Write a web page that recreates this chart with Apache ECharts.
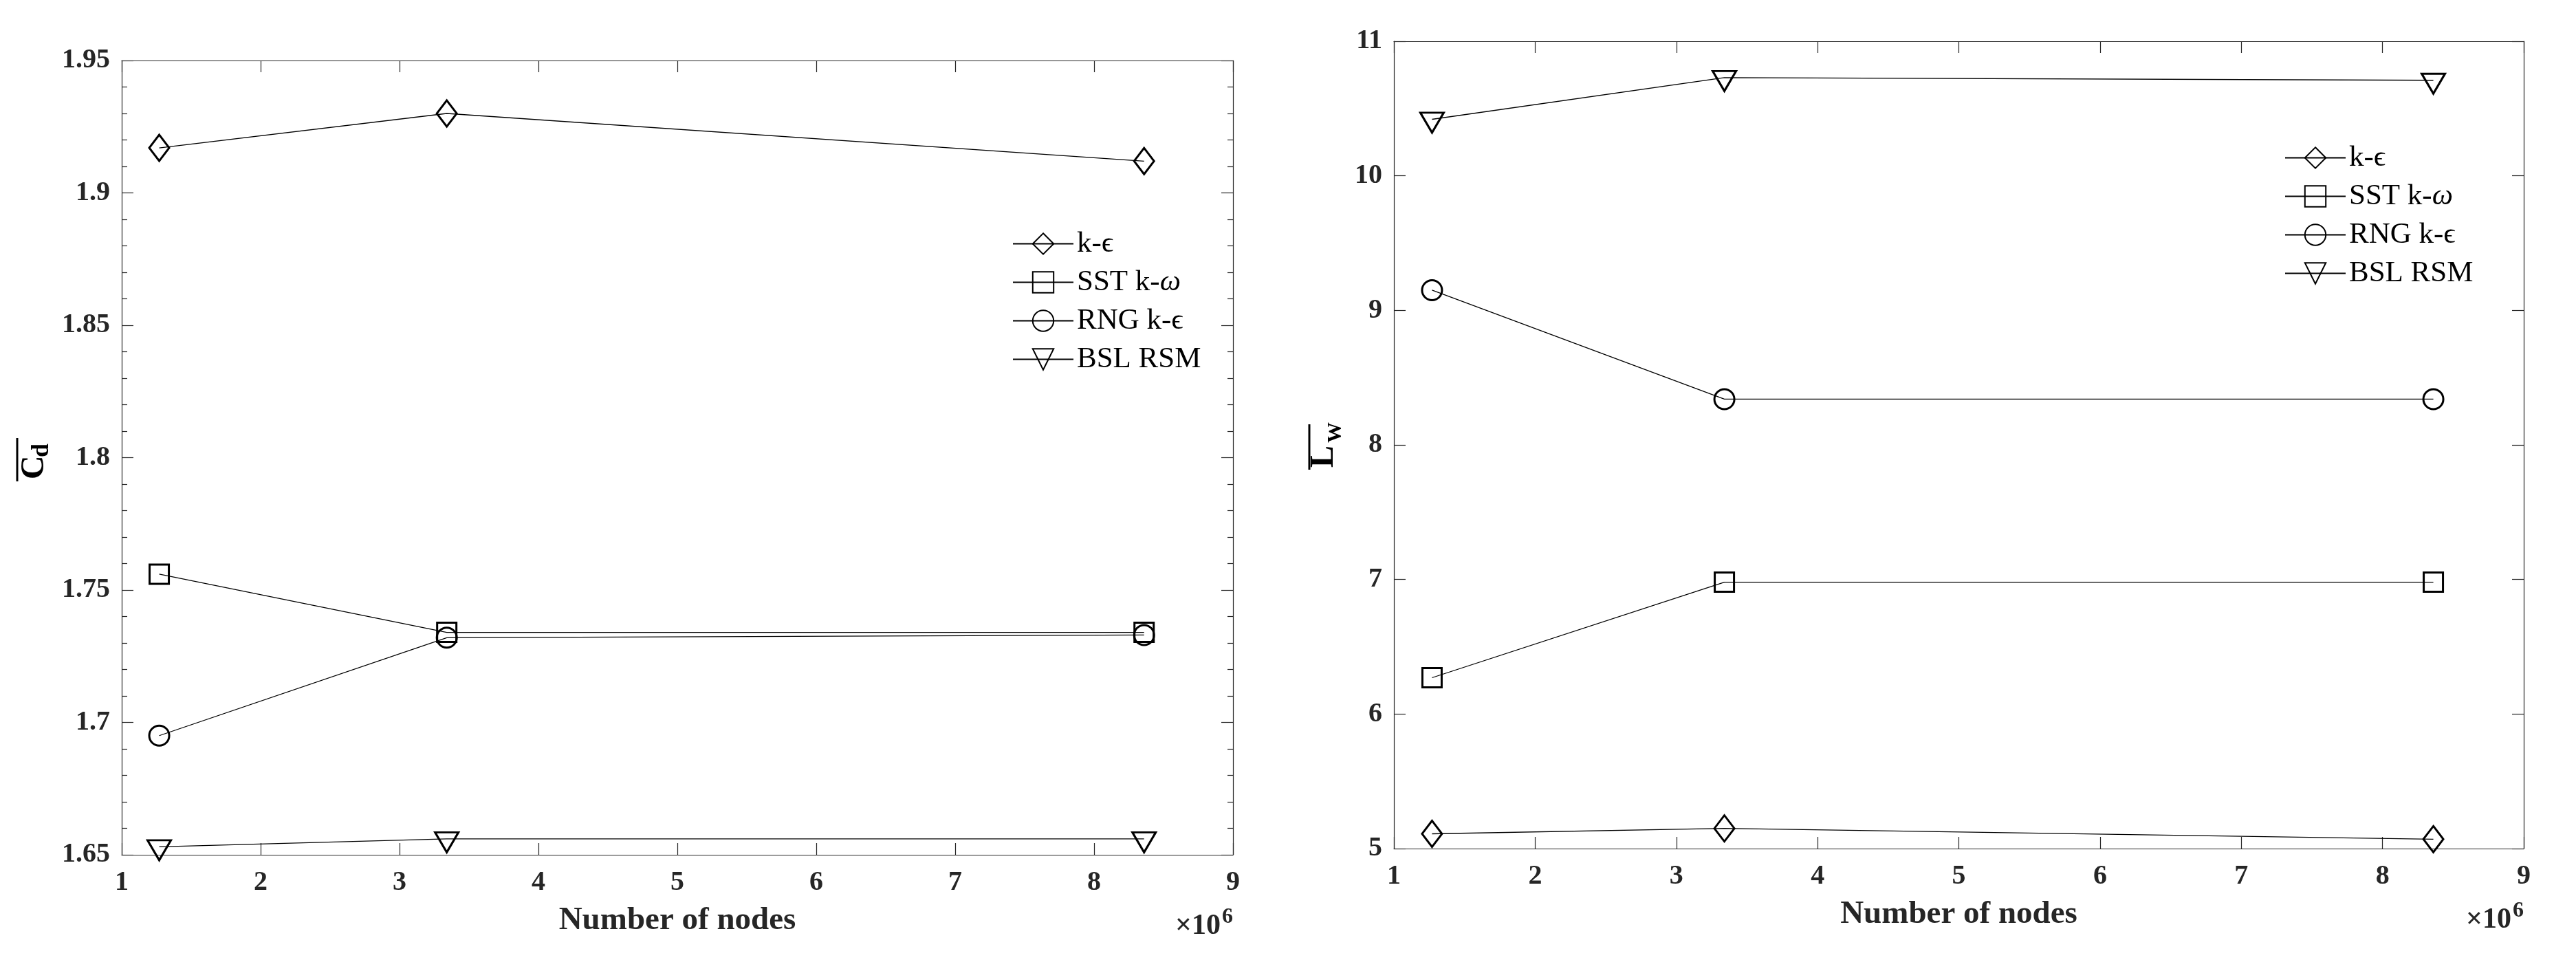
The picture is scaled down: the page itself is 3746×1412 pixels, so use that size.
<!DOCTYPE html>
<html>
<head>
<meta charset="utf-8">
<script src="https://cdn.jsdelivr.net/npm/echarts@6/dist/echarts.min.js"></script>
<style>
html,body{margin:0;padding:0;background:#fff;}
#chart{width:3746px;height:1412px;}
</style>
</head>
<body>
<div id="chart"></div>
<script>
// ---- data (x in units of 10^6 nodes) ----
const nodes = [1.27, 3.34, 8.36];
const seriesNames = ['k-ϵ', 'SST k-ω', 'RNG k-ϵ', 'BSL RSM'];
// Left panel: mean drag coefficient
const cdKEps    = [1.917, 1.930, 1.912];
const cdSST     = [1.756, 1.734, 1.734];
const cdRNG     = [1.695, 1.732, 1.733];
const cdBSL     = [1.653, 1.656, 1.656];
// Right panel: mean wake length
const lwKEps    = [5.11, 5.15, 5.07];
const lwSST     = [6.27, 6.98, 6.98];
const lwRNG     = [9.15, 8.34, 8.34];
const lwBSL     = [10.42, 10.73, 10.71];
const xTicks = [1, 2, 3, 4, 5, 6, 7, 8, 9];
const cdTicks = [1.65, 1.7, 1.75, 1.8, 1.85, 1.9, 1.95];
const lwTicks = [5, 6, 7, 8, 9, 10, 11];

// ---- styling / layout ----
const AX = '#262626';
const SERIF = '"Liberation Serif","Times New Roman",serif';
const G0 = {left: 177, top: 88, width: 1616, height: 1155};
const G1 = {left: 2027, top: 60, width: 1643, height: 1174};

const symbols = [
  {symbol: 'diamond', size: [29, 38], offset: [0, 0]},
  {symbol: 'rect', size: 28, offset: [0, 0]},
  {symbol: 'circle', size: 29, offset: [0, 0]},
  {symbol: 'path://M0,0L34,0L17,29Z', size: [34, 29], offset: [0, 5]}
];

function pairs(ys) { return nodes.map((x, i) => [x, ys[i]]); }

function mkSeries(gridIdx, arrs) {
  return arrs.map((ys, k) => ({
    type: 'line',
    name: seriesNames[k],
    xAxisIndex: gridIdx * 2,
    yAxisIndex: gridIdx * 2,
    data: pairs(ys),
    symbol: symbols[k].symbol,
    symbolSize: symbols[k].size,
    symbolOffset: symbols[k].offset,
    showAllSymbol: true,
    lineStyle: {color: '#000', width: 1.3},
    itemStyle: {color: 'rgba(0,0,0,0)', borderColor: '#000', borderWidth: 3},
    emphasis: {disabled: true},
    animation: false,
    z: 3
  }));
}

function xAxes(gridIdx) {
  const base = {
    type: 'value', gridIndex: gridIdx,
    min: xTicks[0], max: xTicks[xTicks.length - 1], interval: 1,
    splitLine: {show: false},
    axisLine: {show: true, lineStyle: {color: AX, width: 1.2}},
    axisTick: {show: true, inside: true, length: 17, lineStyle: {color: AX, width: 1.2}}
  };
  return [
    Object.assign({}, base, {
      position: 'bottom',
      axisLabel: {show: true, color: AX, fontFamily: SERIF, fontWeight: 'bold', fontSize: 40, margin: 21},
      name: 'Number of nodes', nameLocation: 'middle', nameGap: 72,
      nameTextStyle: {color: AX, fontFamily: SERIF, fontWeight: 'bold', fontSize: 47}
    }),
    Object.assign({}, base, {position: 'top', axisLabel: {show: false}})
  ];
}

function yAxes(gridIdx, ticks, minor) {
  const base = {
    type: 'value', gridIndex: gridIdx,
    min: ticks[0], max: ticks[ticks.length - 1], interval: ticks[1] - ticks[0],
    splitLine: {show: false},
    axisLine: {show: true, lineStyle: {color: AX, width: 1.2}},
    axisTick: {show: true, inside: true, length: 17, lineStyle: {color: AX, width: 1.2}},
    minorTick: {show: minor, splitNumber: 5, length: 8, lineStyle: {color: AX, width: 1.2}},
    minorSplitLine: {show: false}
  };
  return [
    Object.assign({}, base, {
      position: 'left',
      axisLabel: {show: true, color: AX, fontFamily: SERIF, fontWeight: 'bold', fontSize: 40, margin: 17,
        formatter: v => String(+v.toFixed(2))}
    }),
    Object.assign({}, base, {position: 'right', axisLabel: {show: false}})
  ];
}

function legend(left, top) {
  return {
    orient: 'vertical', left: left, top: top,
    itemWidth: 88, itemHeight: 38, itemGap: 13,
    data: seriesNames,
    selectedMode: false,
    textStyle: {color: '#000', fontFamily: SERIF, fontSize: 43,
      rich: {i: {fontFamily: SERIF, fontSize: 43, fontStyle: 'italic', color: '#000'}}},
    formatter: n => n.replace('ω', '{i|ω}')
  };
}

function yLabel(gx, gy, main, sub, mainSize, subSize, subLx, subLy, barLy, barLen) {
  return {
    type: 'group', x: gx, y: gy, rotation: Math.PI / 2, silent: true,
    children: [
      {type: 'text', x: 0, y: 0, style: {text: main, fill: '#000', font: 'bold ' + mainSize + 'px ' + SERIF, align: 'left', verticalAlign: 'middle'}},
      {type: 'text', x: subLx, y: subLy, style: {text: sub, fill: '#000', font: 'bold ' + subSize + 'px ' + SERIF, align: 'left', verticalAlign: 'middle'}},
      {type: 'line', shape: {x1: -3, y1: barLy, x2: barLen, y2: barLy}, style: {stroke: '#000', lineWidth: 3}}
    ]
  };
}

function exponent(rightX, axisY) {
  return {
    type: 'group', silent: true,
    children: [
      {type: 'text', x: rightX - 16, y: axisY + 75, style: {text: '6', fill: AX, font: 'bold 32px ' + SERIF, align: 'left', verticalAlign: 'top'}},
      {type: 'text', x: rightX - 18, y: axisY + 104, style: {text: '×10', fill: AX, font: 'bold 42px ' + SERIF, align: 'right', verticalAlign: 'middle'}}
    ]
  };
}

const chart = echarts.init(document.getElementById('chart'), null, {renderer: 'canvas'});
chart.setOption({
  backgroundColor: '#fff',
  animation: false,
  grid: [
    Object.assign({}, G0, {containLabel: false}),
    Object.assign({}, G1, {containLabel: false})
  ],
  xAxis: xAxes(0).concat(xAxes(1)),
  yAxis: yAxes(0, cdTicks, true).concat(yAxes(1, lwTicks, false)),
  legend: [legend(1467, 328), legend(3317, 203)],
  series: mkSeries(0, [cdKEps, cdSST, cdRNG, cdBSL]).concat(mkSeries(1, [lwKEps, lwSST, lwRNG, lwBSL])),
  graphic: [
    yLabel(51, 697, 'C', 'd', 48, 36, 32, 10, -26, 60),
    yLabel(1926, 680, 'L', 'W', 48, 30, 36, 16, -22, 63),
    exponent(G0.left + G0.width, G0.top + G0.height),
    exponent(G1.left + G1.width, G1.top + G1.height)
  ]
});
</script>
</body>
</html>
